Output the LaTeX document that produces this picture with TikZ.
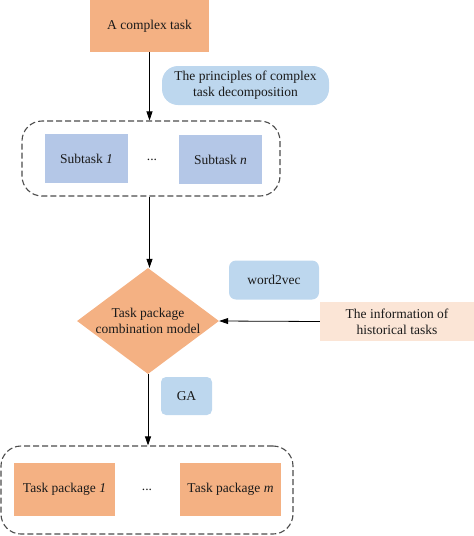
\documentclass[tikz,border=0pt]{standalone}
\usepackage{fontspec}
\setmainfont{Liberation Serif}
\usetikzlibrary{shapes.geometric,arrows.meta}
\definecolor{orng}{HTML}{F4B183}
\definecolor{bblue}{HTML}{BDD7EE}
\definecolor{sblue}{HTML}{B4C7E7}
\definecolor{peach}{HTML}{FBE5D6}
\definecolor{txtc}{HTML}{1A1A1A}
\begin{document}
\begin{tikzpicture}[x=1pt,y=1pt,
  every node/.style={font=\fontsize{13.5}{16}\selectfont, text=txtc, align=center},
  obox/.style={rectangle, fill=orng, inner sep=0},
  sbox/.style={rectangle, fill=sblue, inner sep=0},
  bubble/.style={rectangle, fill=bblue, inner sep=0},
  grp/.style={rectangle, draw=black!70, dashed, dash pattern=on 6pt off 3pt, line width=1.1pt, rounded corners=20pt, inner sep=0},
  arr/.style={draw=black, line width=0.8pt, -{Triangle[length=9pt,width=6pt]}}]
\useasboundingbox (0,0) rectangle (474,-536);
% top task
\node[obox, minimum width=119, minimum height=52] (task) at (149.5,-26) {A complex task};
\node[bubble, rounded corners=16pt, minimum width=167, minimum height=39] (princ) at (245.5,-85.5) {The principles of complex\\task decomposition};
% group 1
\node[grp, minimum width=258, minimum height=75] (grp1) at (151,-158.5) {};
\node[sbox, minimum width=83, minimum height=49] (sub1) at (86.5,-158.5) {Subtask \textit{1}};
\node (dots1) at (152,-160) {...};
\node[sbox, minimum width=83, minimum height=49] (subn) at (220.5,-159.5) {Subtask \textit{n}};
% diamond
\node[diamond, fill=orng, minimum width=142, minimum height=106, inner sep=0] (model) at (148,-321) {};
\node (modeltxt) at (148,-321) {Task package\\combination model};
\node[bubble, rounded corners=7pt, minimum width=90, minimum height=39] (w2v) at (274,-280) {word2vec};
\node[rectangle, fill=peach, minimum width=154, minimum height=39, inner sep=0] (info) at (397,-321.5) {The information of\\historical tasks};
\node[bubble, rounded corners=5pt, minimum width=51, minimum height=38] (ga) at (186.5,-396) {GA};
% group 2
\node[grp, minimum width=292, minimum height=88] (grp2) at (147,-490) {};
\node[obox, minimum width=101, minimum height=53] (pk1) at (64.5,-489.5) {Task package \textit{1}};
\node (dots2) at (147,-490) {...};
\node[obox, minimum width=101, minimum height=53] (pkm) at (230.5,-489.5) {Task package \textit{m}};
% arrows
\draw[arr] (task.south) -- (task.south |- grp1.north);
\draw[arr] (task.south |- grp1.south) -- (task.south |- model.north);
\draw[arr] (info.west) -- (model.east);
\draw[arr] (model.south) -- (model.south |- grp2.north);
\end{tikzpicture}
\end{document}
